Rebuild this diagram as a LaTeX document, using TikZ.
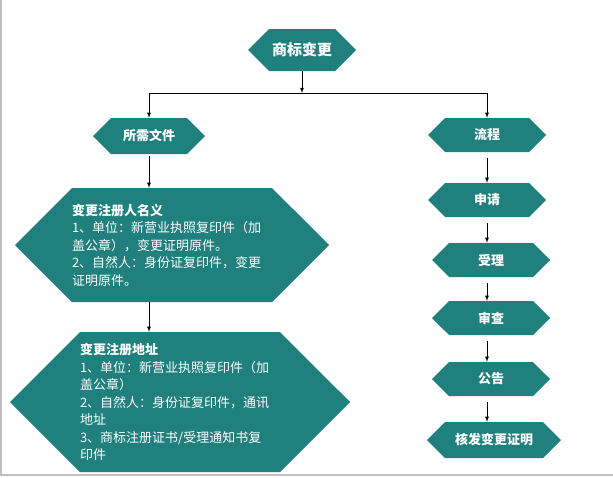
\documentclass[tikz,border=0pt]{standalone}
\usepackage{fontspec}
\setmainfont{Noto Sans CJK SC}
\usetikzlibrary{shapes.symbols}
\definecolor{tealbox}{RGB}{31,128,125}

\begin{document}
\begin{tikzpicture}[x=1pt, y=-1pt,
  hexa/.style={shape=signal, signal to=west and east, signal pointer angle=90,
    fill=tealbox, draw=none, text=white, inner sep=0pt, font=\bfseries\fontsize{13}{15}\selectfont},
  big/.style={hexa, align=left, font=\fontsize{13}{17.5}\selectfont, text width=200pt},
  arr/.style={-latex, black, line width=0.8pt},
]
\useasboundingbox[fill=white] (0,0) rectangle (613,477);
\draw[gray!50, line width=1.2pt] (1,0) -- (1,475) -- (613,475);

\node[hexa, minimum width=108pt, minimum height=42pt, font=\bfseries\fontsize{15}{17}\selectfont] (top) at (302,50) {商标变更};
\node[hexa, minimum width=112pt, minimum height=36pt] (files) at (149,136) {所需文件};
\node[hexa, minimum width=118pt, minimum height=34pt] (flow) at (487,135) {流程};
\node[hexa, minimum width=118pt, minimum height=34pt] (apply) at (487,200) {申请};
\node[hexa, minimum width=118pt, minimum height=34pt] (accept) at (491,260) {受理};
\node[hexa, minimum width=118pt, minimum height=34pt] (review) at (491,318) {审查};
\node[hexa, minimum width=118pt, minimum height=34pt] (notice) at (491,379) {公告};
\node[hexa, minimum width=134pt, minimum height=36pt] (issue) at (494,440) {核发变更证明};

\node[big, minimum width=282pt, minimum height=114pt] (name) at (172,245)
  {\textbf{变更注册人名义}\\1、单位：新营业执照复印件（加\\盖公章），变更证明原件。\\2、自然人：身份证复印件，变更\\证明原件。};
\node[big, minimum width=298pt, minimum height=140pt] (addr) at (180,402)
  {\textbf{变更注册地址}\\1、单位：新营业执照复印件（加\\盖公章）\\2、自然人：身份证复印件，通讯\\地址\\3、商标注册证书/受理通知书复\\印件};

\coordinate (split) at (302,93);
\draw[arr] (top.south) -- (split);
\draw[arr] (split) -| (files.north);
\draw[arr] (split) -| (flow.north);
\draw[arr] ([yshift=-2pt]files.south) -- (files.south |- name.north);
\draw[arr] (files.south |- name.south) -- (files.south |- addr.north);
\draw[arr] ([yshift=-6pt]flow.south) -- (apply.north);
\draw[arr] ([yshift=-6pt]apply.south) -- ([xshift=-4pt]accept.north);
\draw[arr] ([yshift=-6pt,xshift=-4pt]accept.south) -- ([xshift=-4pt]review.north);
\draw[arr] ([yshift=-6pt,xshift=-4pt]review.south) -- ([xshift=-4pt]notice.north);
\draw[arr] ([yshift=-6pt,xshift=-4pt]notice.south) -- ([xshift=-7pt]issue.north);
\end{tikzpicture}
\end{document}
